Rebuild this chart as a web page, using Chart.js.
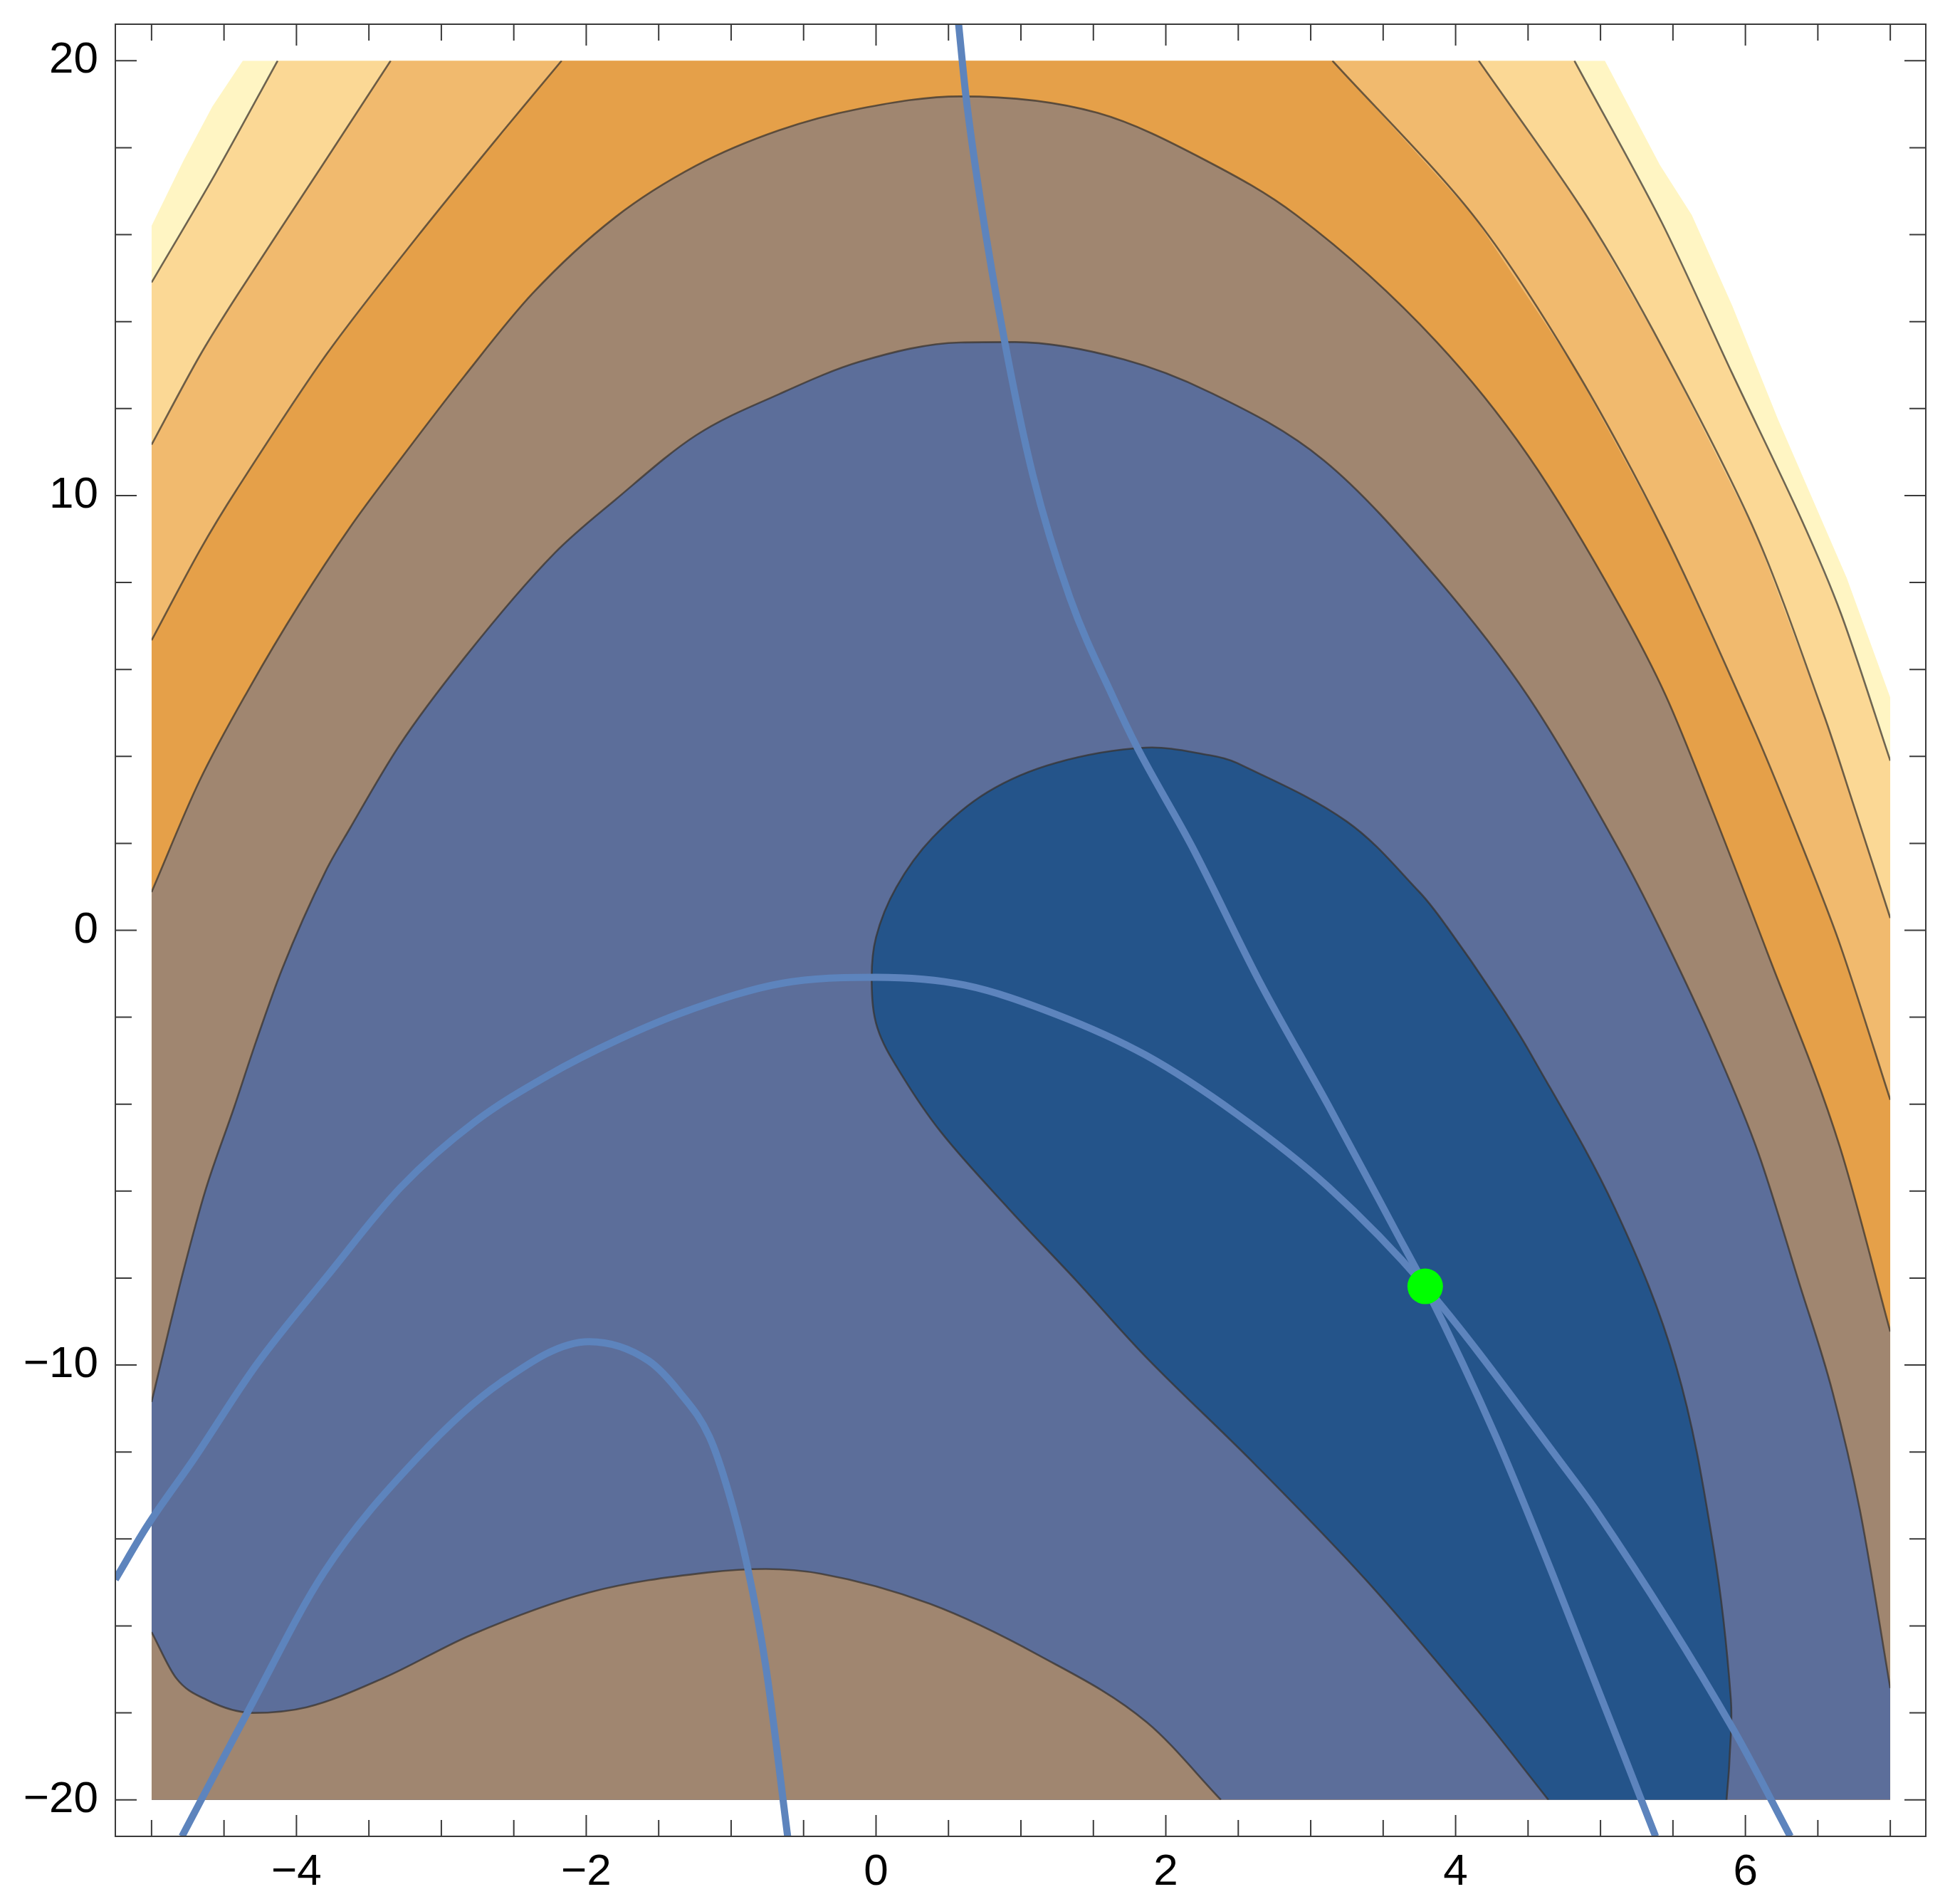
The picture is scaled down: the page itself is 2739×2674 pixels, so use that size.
<!DOCTYPE html>
<html>
<head>
<meta charset="utf-8">
<script src="https://cdn.jsdelivr.net/npm/chart.js@4.4.1/dist/chart.umd.min.js"></script>
<style>
  html, body { margin: 0; padding: 0; background: #ffffff; }
  canvas { display: block; }
</style>
</head>
<body>
<canvas id="c" width="2739" height="2674"></canvas>
<script>
// ---------- tick values ----------
const xTickLabels = [-4, -2, 0, 2, 4, 6];
const yTickLabels = [-20, -10, 0, 10, 20];
const xMinorTicks = [-5, -4.5, -3.5, -3, -2.5, -1.5, -1, -0.5, 0.5, 1, 1.5, 2.5, 3, 3.5, 4.5, 5, 5.5, 6.5, 7];
const yMinorTicks = [-18, -16, -14, -12, -8, -6, -4, -2, 2, 4, 6, 8, 12, 14, 16, 18];

// ---------- plotted domain ----------
const domainX = [-5, 7];
const domainY = [-20, 20];

// ---------- edge of the clipped (white) corners ----------
const clipTopLeft = [[-5, 16.2], [-4.78, 17.7], [-4.58, 18.95], [-4.37, 20]];
const clipTopRight = [[5.03, 20], [5.41, 17.6], [5.63, 16.45], [5.91, 14.36], [6.225, 11.75], [6.70, 8.1], [7, 5.35]];

// ---------- contour lines ----------
const c6Left = [[-5, 14.9], [-4.56, 17.4], [-4.13, 20]];
const c6Right = [[4.82, 20], [5.42, 16.3], [5.91, 12.8], [6.38, 9.5], [6.66, 7.28], [7, 3.9]];
const c5Left = [[-5, 11.17], [-4.67, 13.2], [-4.41, 14.6], [-3.82, 17.6], [-3.35, 20]];
const c5Right = [[4.16, 20], [4.9, 16.45], [5.44, 13.32], [6.07, 9.14], [6.54, 4.97], [6.74, 2.95], [7, 0.28]];
const c4Left = [[-5, 6.67], [-4.67, 8.72], [-4.41, 10.15], [-3.79, 13.26], [-3.16, 15.98], [-2.57, 18.4], [-2.17, 20]];
const c4Right = [[3.15, 20], [4.12, 16.45], [4.81, 13.0], [5.44, 9.14], [6.05, 4.7], [6.36, 2.2], [6.65, -0.3], [7, -3.9]];
const c3Arch = [[-5, 0.88], [-4.67, 3.43], [-4.32, 5.6], [-3.98, 7.5], [-3.63, 9.27], [-3.29, 10.8], [-2.84, 12.75],
  [-2.37, 14.65], [-1.80, 16.4], [-1.24, 17.59], [-0.67, 18.4], [-0.11, 18.9], [0.58, 19.18], [1.53, 18.8],
  [2.28, 17.7], [2.9, 16.45], [3.87, 13.53], [4.5, 10.92], [5.13, 7.47], [5.45, 5.4], [5.78, 2.7], [6.15, -0.5],
  [6.65, -4.96], [7, -9.23]];
const c2Arch = [[-5, -10.85], [-4.885, -9.25], [-4.78, -7.83], [-4.63, -6.0], [-4.43, -4.07], [-4.28, -2.57],
  [-4.10, -0.9], [-3.80, 1.35], [-3.63, 2.35], [-3.29, 4.25], [-2.84, 6.27], [-2.22, 8.67], [-1.80, 9.9],
  [-1.24, 11.39], [-0.67, 12.33], [-0.11, 13.08], [0.58, 13.52], [0.96, 13.53], [1.71, 13.13], [2.30, 12.38],
  [3.09, 10.81], [3.87, 8.1], [4.5, 5.38], [5.13, 1.84], [5.4, 0.1], [5.8, -2.75], [6.09, -5.13], [6.37, -8.1],
  [6.6, -10.6], [6.79, -13.33], [7, -17.43]];
const c2Bottom = [[-5, -16.14], [-4.83, -17.2], [-4.62, -17.7], [-4.30, -18.0], [-3.93, -17.87], [-3.40, -17.2],
  [-2.79, -16.2], [-1.98, -15.23], [-1.16, -14.77], [-0.76, -14.69], [-0.38, -14.8], [0.37, -15.49],
  [1.12, -16.67], [1.87, -18.22], [2.38, -20]];
const c1Blob = [[5.87, -20], [5.89, -19.1], [5.9, -17.7], [5.78, -14.2], [5.52, -10.0], [5.1, -6.4], [4.52, -2.85],
  [4.27, -1.51], [3.94, 0.08], [3.75, 0.88], [3.25, 2.5], [2.49, 3.85], [2.30, 4.03], [1.86, 4.2], [1.24, 3.85],
  [0.77, 3.18], [0.39, 2.13], [0.14, 0.99], [0, -0.16], [-0.03, -1.2], [0.01, -2.25], [0.17, -3.29], [0.45, -4.65],
  [0.92, -6.42], [1.38, -8.05], [1.87, -9.84], [2.62, -12.3], [3.38, -14.94], [4.13, -17.86], [4.64, -20]];

// ---------- overlaid curves ----------
const curveA = [[-5.25, -14.93], [-5.03, -13.7], [-4.71, -12.17], [-4.28, -10.01], [-3.78, -7.92], [-3.28, -5.91],
  [-2.77, -4.41], [-2.27, -3.35], [-1.77, -2.5], [-1.3, -1.85], [-0.65, -1.22], [0, -1.08], [0.61, -1.26],
  [1.24, -1.93], [1.86, -2.87], [2.49, -4.23], [3.12, -5.9], [3.79, -8.19], [4.76, -12.39], [4.96, -13.3],
  [5.92, -18.4], [6.31, -20.84]];
const curveB = [[0.57, 20.84], [0.62, 19.2], [0.72, 16.8], [0.89, 13.5], [1.08, 10.5], [1.34, 7.63], [1.64, 5.33],
  [1.8, 4.22], [2.18, 1.93], [2.65, -1.2], [3.12, -4.02], [3.59, -6.94], [3.79, -8.19], [4.28, -11.66],
  [4.68, -14.9], [5.38, -20.84]];
const curveC = [[-4.79, -20.84], [-4.34, -18.0], [-3.81, -14.77], [-3.17, -12.15], [-2.59, -10.4], [-1.98, -9.46],
  [-1.57, -9.9], [-1.35, -10.65], [-1.15, -11.65], [-1.02, -12.9], [-0.89, -14.6], [-0.76, -16.95], [-0.61, -20.84]];
const minimumPoint = [[3.79, -8.19]];

// ---------- colours ----------
const bandColors = ['#FFF5C3', '#FBD895', '#F1BA6E', '#E5A049', '#A08670', '#5C6E9A', '#24548A'];
const contourColor = 'rgba(55,50,45,0.72)';
const curveColor = '#5D84BD';

// ---------- build datasets ----------
const pts = a => a.map(p => ({ x: p[0], y: p[1] }));
const [X0, X1] = domainX;
const [Y0, Y1] = domainY;
const none = 'rgba(0,0,0,0)';
const smoothX = { cubicInterpolationMode: 'monotone' };

const datasets = [];
// polygon bands (straight domain edges)
[
  [[X0, Y0], ...clipTopLeft, ...clipTopRight, [X1, Y0]],
  [[X0, Y0], ...c6Left, ...c6Right, [X1, Y0]],
  [[X0, Y0], ...c5Left, ...c5Right, [X1, Y0]],
  [[X0, Y0], ...c4Left, ...c4Right, [X1, Y0]]
].forEach((shape, i) => datasets.push({
  data: pts(shape), fill: 'shape', backgroundColor: bandColors[i],
  borderColor: none, borderWidth: 0, pointRadius: 0, tension: 0
}));
// bands bounded by smooth contour lines, filled down to the bottom of the domain
[[c3Arch, bandColors[4]], [c2Arch, bandColors[5]], [c2Bottom, bandColors[4]]].forEach(([c, col]) => datasets.push({
  data: pts(c), fill: { value: Y0 }, backgroundColor: col,
  borderColor: none, borderWidth: 0, pointRadius: 0, ...smoothX
}));
// innermost region (path closed along the bottom edge)
datasets.push({
  data: pts(c1Blob), fill: 'shape', backgroundColor: bandColors[6],
  borderColor: none, borderWidth: 0, pointRadius: 0, tension: 0.35
});
// contour lines
[c6Left, c6Right, c5Left, c5Right, c4Left, c4Right].forEach(c => datasets.push({
  data: pts(c), fill: false, borderColor: contourColor, borderWidth: 2.6, pointRadius: 0, tension: 0.3
}));
[c3Arch, c2Arch, c2Bottom].forEach(c => datasets.push({
  data: pts(c), fill: false, borderColor: contourColor, borderWidth: 2.6, pointRadius: 0, ...smoothX
}));
datasets.push({
  data: pts(c1Blob), fill: false, borderColor: contourColor, borderWidth: 2.6, pointRadius: 0, tension: 0.35
});
const lastClipped = datasets.length - 1;
// overlaid curves
[curveA, curveB, curveC].forEach(c => datasets.push({
  data: pts(c), fill: false, borderColor: curveColor, borderWidth: 10,
  pointRadius: 0, borderCapStyle: 'butt', ...smoothX
}));
datasets.push({
  data: pts(minimumPoint), showLine: false, pointRadius: 25, pointHoverRadius: 25,
  backgroundColor: '#00FF00', pointBackgroundColor: '#00FF00', pointBorderWidth: 0, borderWidth: 0
});
datasets.forEach((d, i) => { d.order = datasets.length - i; });

const fmt = v => (v < 0 ? '\u2212' + Math.abs(v) : String(v));

// clip the contour regions to the plotted domain
const domainClip = {
  id: 'domainClip',
  beforeDatasetsDraw(chart) {
    const { ctx, scales: { x, y } } = chart;
    const l = x.getPixelForValue(X0), r = x.getPixelForValue(X1);
    const t = y.getPixelForValue(Y1), b = y.getPixelForValue(Y0);
    ctx.save();
    ctx.beginPath();
    ctx.rect(l, t, r - l, b - t);
    ctx.clip();
    this._open = true;
  },
  afterDatasetDraw(chart, args) {
    if (this._open && args.index === lastClipped) { chart.ctx.restore(); this._open = false; }
  },
  afterDatasetsDraw(chart) {
    if (this._open) { chart.ctx.restore(); this._open = false; }
  }
};

const framePlugin = {
  id: 'frameTicks',
  afterDraw(chart) {
    const { ctx, chartArea: a, scales } = chart;
    const sx = scales.x, sy = scales.y;
    ctx.save();
    ctx.strokeStyle = '#3a3a3a';
    ctx.lineWidth = 2;
    ctx.strokeRect(a.left, a.top, a.right - a.left, a.bottom - a.top);
    ctx.beginPath();
    const xt = (vals, len) => vals.forEach(v => {
      const p = sx.getPixelForValue(v);
      ctx.moveTo(p, a.bottom); ctx.lineTo(p, a.bottom - len);
      ctx.moveTo(p, a.top); ctx.lineTo(p, a.top + len);
    });
    const yt = (vals, len) => vals.forEach(v => {
      const p = sy.getPixelForValue(v);
      ctx.moveTo(a.left, p); ctx.lineTo(a.left + len, p);
      ctx.moveTo(a.right, p); ctx.lineTo(a.right - len, p);
    });
    xt(xTickLabels, 30); xt(xMinorTicks, 23);
    yt(yTickLabels, 30); yt(yMinorTicks, 23);
    ctx.stroke();
    ctx.restore();
  }
};

const tickFont = { family: "'Liberation Sans', Arial, sans-serif", size: 62 };

new Chart(document.getElementById('c').getContext('2d'), {
  type: 'line',
  data: { datasets },
  options: {
    responsive: false,
    animation: false,
    devicePixelRatio: 1,
    events: [],
    layout: { padding: { top: 34, right: 34, left: 0, bottom: 0 } },
    plugins: { legend: { display: false }, tooltip: { enabled: false } },
    elements: { point: { radius: 0 } },
    scales: {
      x: {
        type: 'linear', min: -5.25, max: 7.245,
        grid: { display: false, drawTicks: false }, border: { display: false },
        afterBuildTicks: s => { s.ticks = xTickLabels.map(v => ({ value: v })); },
        afterFit: s => { s.height = 95; s.paddingLeft = 0; s.paddingRight = 0; },
        ticks: { padding: 14, color: '#000', font: tickFont, autoSkip: false, maxRotation: 0, minRotation: 0,
                 callback: v => fmt(v) }
      },
      y: {
        type: 'linear', min: -20.84, max: 20.84,
        grid: { display: false, drawTicks: false }, border: { display: false },
        afterBuildTicks: s => { s.ticks = yTickLabels.map(v => ({ value: v })); },
        afterFit: s => { s.width = 162; s.paddingTop = 0; s.paddingBottom = 0; },
        ticks: { padding: 24, color: '#000', font: tickFont, autoSkip: false, callback: v => fmt(v) }
      }
    }
  },
  plugins: [domainClip, framePlugin]
});
</script>
</body>
</html>
